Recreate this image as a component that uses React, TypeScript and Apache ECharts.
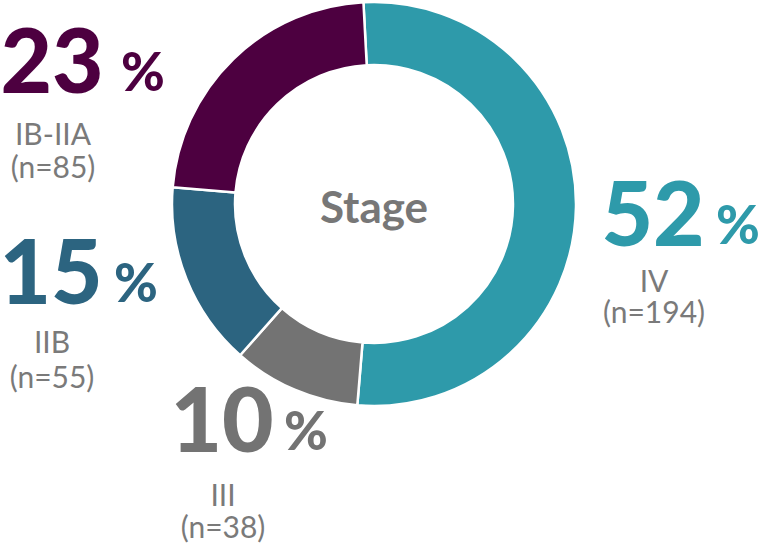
import React, { useEffect, useRef } from "react";
import * as echarts from "echarts";

const stages = ["IV", "III", "IIB", "IB-IIA"];
const counts = [194, 38, 55, 85];
const colors = ["#2E9AAA", "#737373", "#2C6480", "#4D0040"];
const centerTitle = "Stage";

// layout of the external labels: [number center x, number middle y, % left x, label1 mid y, label2 mid y]
const labelLayout = [
  [653, 211, 716, 280, 311],
  [222, 417, 284, 494, 526],
  [51, 269, 114, 341, 376],
  [52, 58, 121, 133, 166],
];

export default function App() {
  const ref = useRef<HTMLDivElement>(null);
  useEffect(() => {
    if (!ref.current) return;
    const chart = echarts.init(ref.current, null, { renderer: "svg" });
    const total = counts.reduce((a, b) => a + b, 0);
    const font = "Lato, 'Noto Sans', sans-serif";
    const graphics: any[] = [];
    stages.forEach((s, i) => {
      const [cx, my, px, l1, l2] = labelLayout[i];
      const pct = Math.round((counts[i] / total) * 100);
      graphics.push({
        type: "text",
        x: cx,
        y: my,
        style: {
          text: String(pct),
          fill: colors[i],
          font: `900 89px ${font}`,
          textAlign: "center",
          textVerticalAlign: "middle",
        },
      });
      graphics.push({
        type: "text",
        x: px,
        y: my + 12,
        style: {
          text: "%",
          fill: colors[i],
          font: `900 53px ${font}`,
          textAlign: "left",
          textVerticalAlign: "middle",
        },
      });
      graphics.push({
        type: "text",
        x: cx + 1,
        y: (l1 + l2) / 2,
        style: {
          text: `${s}\n(n=${counts[i]})`,
          fill: "#7a7a7a",
          font: `400 30px ${font}`,
          lineHeight: l2 - l1,
          textAlign: "center",
          textVerticalAlign: "middle",
        },
      });
    });
    graphics.push({
      type: "text",
      x: 374,
      y: 206,
      style: {
        text: centerTitle,
        fill: "#777777",
        font: `700 44px ${font}`,
        textAlign: "center",
        textVerticalAlign: "middle",
      },
    });
    chart.setOption({
      animation: false,
      series: [
        {
          type: "pie",
          center: [374, 204],
          radius: [139, 202],
          startAngle: 93,
          clockwise: true,
          label: { show: false },
          labelLine: { show: false },
          silent: true,
          itemStyle: { borderColor: "#ffffff", borderWidth: 2.5 },
          data: stages.map((s, i) => ({
            name: s,
            value: counts[i],
            itemStyle: { color: colors[i] },
          })),
        },
      ],
      graphic: graphics,
    });
    return () => chart.dispose();
  }, []);
  return (
    <div
      ref={ref}
      style={{ position: "fixed", left: 0, top: 0, width: 765, height: 544, background: "#fff" }}
    />
  );
}
